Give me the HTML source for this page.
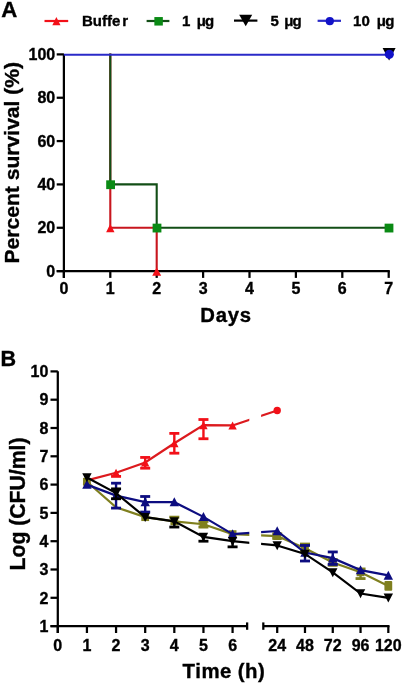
<!DOCTYPE html>
<html><head><meta charset="utf-8"><title>Figure</title>
<style>html,body{margin:0;padding:0;background:#fff;} svg{display:block} text{font-family:'Liberation Sans',Arial,sans-serif;font-weight:bold;fill:#000;stroke:#000;stroke-width:0.35px;font-variant-ligatures:none;font-kerning:none}</style>
</head><body>
<svg width="405" height="685" viewBox="0 0 405 685">
<rect width="405" height="685" fill="#fff"/>
<text x="1.20" y="17.30" font-size="22.2" text-anchor="start" >A</text>
<line x1="44.50" y1="21.00" x2="68.20" y2="21.00" stroke="#f21018" stroke-width="2.2"/>
<polygon points="52.30,25.35 60.50,25.35 56.40,17.05" fill="#f21018"/>
<text x="81.9" y="25.6" font-size="15">Buffe<tspan dx="1.9">r</tspan></text>
<line x1="146.60" y1="21.00" x2="169.40" y2="21.00" stroke="#124e16" stroke-width="2.2"/>
<rect x="154.35" y="17.05" width="8.5" height="8.5" fill="#0a8a14"/>
<text x="181.9 190.3 196.7 204.9" y="25.6" font-size="15">1 μg</text>
<line x1="234.00" y1="20.60" x2="257.40" y2="20.60" stroke="#000" stroke-width="2.2"/>
<polygon points="239.20,14.65 252.20,14.65 245.70,26.15" fill="#000"/>
<text x="270.6 278.9 284.2 292.6" y="25.6" font-size="15">5 μg</text>
<line x1="317.60" y1="20.80" x2="341.00" y2="20.80" stroke="#2a2ac8" stroke-width="2.2"/>
<circle cx="329.80" cy="21.20" r="4.1" fill="#1212c8"/>
<text x="353.0 361.5 369.8 376.7 385.2" y="25.6" font-size="15">10 μg</text>
<line x1="63.90" y1="54.20" x2="63.90" y2="277.90" stroke="#000" stroke-width="2.25"/>
<line x1="56.70" y1="271.10" x2="389.80" y2="271.10" stroke="#000" stroke-width="2.25"/>
<line x1="56.70" y1="271.10" x2="63.90" y2="271.10" stroke="#000" stroke-width="2.25"/>
<text x="55.20" y="276.80" font-size="16" text-anchor="end" >0</text>
<line x1="56.70" y1="227.76" x2="63.90" y2="227.76" stroke="#000" stroke-width="2.25"/>
<text x="55.20" y="233.46" font-size="16" text-anchor="end" >20</text>
<line x1="56.70" y1="184.42" x2="63.90" y2="184.42" stroke="#000" stroke-width="2.25"/>
<text x="55.20" y="190.12" font-size="16" text-anchor="end" >40</text>
<line x1="56.70" y1="141.08" x2="63.90" y2="141.08" stroke="#000" stroke-width="2.25"/>
<text x="55.20" y="146.78" font-size="16" text-anchor="end" >60</text>
<line x1="56.70" y1="97.74" x2="63.90" y2="97.74" stroke="#000" stroke-width="2.25"/>
<text x="55.20" y="103.44" font-size="16" text-anchor="end" >80</text>
<line x1="56.70" y1="54.40" x2="63.90" y2="54.40" stroke="#000" stroke-width="2.25"/>
<text x="55.20" y="60.10" font-size="16" text-anchor="end" >100</text>
<line x1="63.90" y1="271.10" x2="63.90" y2="277.90" stroke="#000" stroke-width="2.25"/>
<text x="63.90" y="294.20" font-size="16" text-anchor="middle" >0</text>
<line x1="110.30" y1="271.10" x2="110.30" y2="277.90" stroke="#000" stroke-width="2.25"/>
<text x="110.30" y="294.20" font-size="16" text-anchor="middle" >1</text>
<line x1="156.70" y1="271.10" x2="156.70" y2="277.90" stroke="#000" stroke-width="2.25"/>
<text x="156.70" y="294.20" font-size="16" text-anchor="middle" >2</text>
<line x1="203.10" y1="271.10" x2="203.10" y2="277.90" stroke="#000" stroke-width="2.25"/>
<text x="203.10" y="294.20" font-size="16" text-anchor="middle" >3</text>
<line x1="249.50" y1="271.10" x2="249.50" y2="277.90" stroke="#000" stroke-width="2.25"/>
<text x="249.50" y="294.20" font-size="16" text-anchor="middle" >4</text>
<line x1="295.90" y1="271.10" x2="295.90" y2="277.90" stroke="#000" stroke-width="2.25"/>
<text x="295.90" y="294.20" font-size="16" text-anchor="middle" >5</text>
<line x1="342.30" y1="271.10" x2="342.30" y2="277.90" stroke="#000" stroke-width="2.25"/>
<text x="342.30" y="294.20" font-size="16" text-anchor="middle" >6</text>
<line x1="388.70" y1="271.10" x2="388.70" y2="277.90" stroke="#000" stroke-width="2.25"/>
<text x="388.70" y="294.20" font-size="16" text-anchor="middle" >7</text>
<text x="225.60" y="321.60" font-size="20.3" text-anchor="middle" textLength="50.7" lengthAdjust="spacing">Days</text>
<text transform="translate(18.5,162.7) rotate(-90)" x="0" y="0" font-size="21.1" text-anchor="middle">Percent survival (%)</text>
<polyline points="110.30,53.50 110.30,227.76 156.70,227.76 156.70,271.10" fill="none" stroke="#c8161e" stroke-width="2.1" stroke-linejoin="miter"/>
<polyline points="110.30,53.50 110.30,184.42 156.70,184.42 156.70,227.76 388.70,227.76" fill="none" stroke="#124e16" stroke-width="2.1" stroke-linejoin="miter"/>
<polygon points="106.10,232.36 114.50,232.36 110.30,223.96" fill="#f21018"/>
<polygon points="152.20,275.80 161.20,275.80 156.70,267.40" fill="#f21018"/>
<rect x="106.20" y="180.32" width="8.8" height="8.8" fill="#0a8a14"/>
<rect x="152.60" y="223.66" width="8.8" height="8.8" fill="#0a8a14"/>
<rect x="384.60" y="223.66" width="8.8" height="8.8" fill="#0a8a14"/>
<line x1="63.90" y1="54.70" x2="388.70" y2="54.70" stroke="#2a2ac8" stroke-width="1.9"/>
<polygon points="382.60,48.00 395.60,48.00 389.10,60.40" fill="#000"/>
<circle cx="389.30" cy="54.30" r="4.6" fill="#1212c8"/>
<text x="0.60" y="366.30" font-size="21.6" text-anchor="start" >B</text>
<line x1="57.80" y1="371.20" x2="57.80" y2="633.00" stroke="#000" stroke-width="2.25"/>
<line x1="50.50" y1="626.10" x2="57.80" y2="626.10" stroke="#000" stroke-width="2.25"/>
<text x="48.30" y="631.80" font-size="16" text-anchor="end" >1</text>
<line x1="50.50" y1="597.80" x2="57.80" y2="597.80" stroke="#000" stroke-width="2.25"/>
<text x="48.30" y="603.50" font-size="16" text-anchor="end" >2</text>
<line x1="50.50" y1="569.50" x2="57.80" y2="569.50" stroke="#000" stroke-width="2.25"/>
<text x="48.30" y="575.20" font-size="16" text-anchor="end" >3</text>
<line x1="50.50" y1="541.20" x2="57.80" y2="541.20" stroke="#000" stroke-width="2.25"/>
<text x="48.30" y="546.90" font-size="16" text-anchor="end" >4</text>
<line x1="50.50" y1="512.90" x2="57.80" y2="512.90" stroke="#000" stroke-width="2.25"/>
<text x="48.30" y="518.60" font-size="16" text-anchor="end" >5</text>
<line x1="50.50" y1="484.60" x2="57.80" y2="484.60" stroke="#000" stroke-width="2.25"/>
<text x="48.30" y="490.30" font-size="16" text-anchor="end" >6</text>
<line x1="50.50" y1="456.30" x2="57.80" y2="456.30" stroke="#000" stroke-width="2.25"/>
<text x="48.30" y="462.00" font-size="16" text-anchor="end" >7</text>
<line x1="50.50" y1="428.00" x2="57.80" y2="428.00" stroke="#000" stroke-width="2.25"/>
<text x="48.30" y="433.70" font-size="16" text-anchor="end" >8</text>
<line x1="50.50" y1="399.70" x2="57.80" y2="399.70" stroke="#000" stroke-width="2.25"/>
<text x="48.30" y="405.40" font-size="16" text-anchor="end" >9</text>
<line x1="50.50" y1="371.40" x2="57.80" y2="371.40" stroke="#000" stroke-width="2.25"/>
<text x="48.30" y="377.10" font-size="16" text-anchor="end" >10</text>
<line x1="50.50" y1="626.10" x2="247.14" y2="626.10" stroke="#000" stroke-width="2.25"/>
<line x1="247.14" y1="622.40" x2="247.14" y2="629.80" stroke="#000" stroke-width="2.25"/>
<line x1="57.80" y1="626.10" x2="57.80" y2="633.00" stroke="#000" stroke-width="2.25"/>
<text x="57.80" y="651.20" font-size="16" text-anchor="middle" >0</text>
<line x1="86.93" y1="626.10" x2="86.93" y2="633.00" stroke="#000" stroke-width="2.25"/>
<text x="86.93" y="651.20" font-size="16" text-anchor="middle" >1</text>
<line x1="116.06" y1="626.10" x2="116.06" y2="633.00" stroke="#000" stroke-width="2.25"/>
<text x="116.06" y="651.20" font-size="16" text-anchor="middle" >2</text>
<line x1="145.19" y1="626.10" x2="145.19" y2="633.00" stroke="#000" stroke-width="2.25"/>
<text x="145.19" y="651.20" font-size="16" text-anchor="middle" >3</text>
<line x1="174.32" y1="626.10" x2="174.32" y2="633.00" stroke="#000" stroke-width="2.25"/>
<text x="174.32" y="651.20" font-size="16" text-anchor="middle" >4</text>
<line x1="203.45" y1="626.10" x2="203.45" y2="633.00" stroke="#000" stroke-width="2.25"/>
<text x="203.45" y="651.20" font-size="16" text-anchor="middle" >5</text>
<line x1="232.58" y1="626.10" x2="232.58" y2="633.00" stroke="#000" stroke-width="2.25"/>
<text x="232.58" y="651.20" font-size="16" text-anchor="middle" >6</text>
<line x1="263.31" y1="626.10" x2="389.52" y2="626.10" stroke="#000" stroke-width="2.25"/>
<line x1="263.31" y1="622.40" x2="263.31" y2="629.80" stroke="#000" stroke-width="2.25"/>
<line x1="277.20" y1="626.10" x2="277.20" y2="633.00" stroke="#000" stroke-width="2.25"/>
<text x="277.20" y="651.20" font-size="16" text-anchor="middle" >24</text>
<line x1="304.98" y1="626.10" x2="304.98" y2="633.00" stroke="#000" stroke-width="2.25"/>
<text x="304.98" y="651.20" font-size="16" text-anchor="middle" >48</text>
<line x1="332.76" y1="626.10" x2="332.76" y2="633.00" stroke="#000" stroke-width="2.25"/>
<text x="332.76" y="651.20" font-size="16" text-anchor="middle" >72</text>
<line x1="360.54" y1="626.10" x2="360.54" y2="633.00" stroke="#000" stroke-width="2.25"/>
<text x="360.54" y="651.20" font-size="16" text-anchor="middle" >96</text>
<line x1="388.32" y1="626.10" x2="388.32" y2="633.00" stroke="#000" stroke-width="2.25"/>
<text x="388.32" y="651.20" font-size="16" text-anchor="middle" >120</text>
<text x="223.60" y="678.30" font-size="20.4" text-anchor="middle" textLength="82.4" lengthAdjust="spacing">Time (h)</text>
<text transform="translate(25.3,504) rotate(-90)" x="0" y="0" font-size="21.2" text-anchor="middle">Log (CFU/ml)</text>
<defs><clipPath id="brk"><rect x="0" y="0" width="249.3" height="685"/><rect x="261.1" y="0" width="200" height="685"/></clipPath></defs>
<polyline points="86.93,480.36 116.06,472.71 145.19,462.53 174.32,443.28 203.45,425.17 232.58,425.45" fill="none" stroke="#dc1a1e" stroke-width="2.2" stroke-linejoin="miter"/>
<g clip-path="url(#brk)"><line x1="232.58" y1="425.45" x2="277.20" y2="410.45" stroke="#dc1a1e" stroke-width="2.2"/></g>
<polygon points="82.73,484.36 91.13,484.36 86.93,476.36" fill="#f21018"/>
<line x1="116.06" y1="472.71" x2="116.06" y2="476.39" stroke="#f21018" stroke-width="2.4"/>
<line x1="111.06" y1="476.39" x2="121.06" y2="476.39" stroke="#f21018" stroke-width="2.8"/>
<polygon points="111.86,476.71 120.26,476.71 116.06,468.71" fill="#f21018"/>
<line x1="145.19" y1="462.53" x2="145.19" y2="457.43" stroke="#f21018" stroke-width="2.4"/>
<line x1="140.19" y1="457.43" x2="150.19" y2="457.43" stroke="#f21018" stroke-width="2.8"/>
<line x1="145.19" y1="462.53" x2="145.19" y2="468.19" stroke="#f21018" stroke-width="2.4"/>
<line x1="140.19" y1="468.19" x2="150.19" y2="468.19" stroke="#f21018" stroke-width="2.8"/>
<polygon points="140.99,466.53 149.39,466.53 145.19,458.53" fill="#f21018"/>
<line x1="174.32" y1="443.28" x2="174.32" y2="433.38" stroke="#f21018" stroke-width="2.4"/>
<line x1="169.32" y1="433.38" x2="179.32" y2="433.38" stroke="#f21018" stroke-width="2.8"/>
<line x1="174.32" y1="443.28" x2="174.32" y2="453.19" stroke="#f21018" stroke-width="2.4"/>
<line x1="169.32" y1="453.19" x2="179.32" y2="453.19" stroke="#f21018" stroke-width="2.8"/>
<polygon points="170.12,447.28 178.52,447.28 174.32,439.28" fill="#f21018"/>
<line x1="203.45" y1="425.17" x2="203.45" y2="419.51" stroke="#f21018" stroke-width="2.4"/>
<line x1="198.45" y1="419.51" x2="208.45" y2="419.51" stroke="#f21018" stroke-width="2.8"/>
<line x1="203.45" y1="425.17" x2="203.45" y2="438.75" stroke="#f21018" stroke-width="2.4"/>
<line x1="198.45" y1="438.75" x2="208.45" y2="438.75" stroke="#f21018" stroke-width="2.8"/>
<polygon points="199.25,429.17 207.65,429.17 203.45,421.17" fill="#f21018"/>
<polygon points="228.38,429.45 236.78,429.45 232.58,421.45" fill="#f21018"/>
<circle cx="277.20" cy="410.45" r="3.7" fill="#f21018"/>
<polyline points="86.93,481.77 116.06,507.24 145.19,517.14 174.32,521.39 203.45,524.22 232.58,534.12" fill="none" stroke="#7f7f1e" stroke-width="2.2" stroke-linejoin="miter"/>
<polyline points="277.20,536.11 304.98,548.27 332.76,562.43 360.54,572.33 388.32,585.91" fill="none" stroke="#7f7f1e" stroke-width="2.2" stroke-linejoin="miter"/>
<g clip-path="url(#brk)"><line x1="232.58" y1="534.12" x2="277.20" y2="536.11" stroke="#7f7f1e" stroke-width="2.2"/></g>
<rect x="83.03" y="477.87" width="7.8" height="7.8" fill="#7f7f1e"/>
<rect x="141.29" y="513.25" width="7.8" height="7.8" fill="#7f7f1e"/>
<line x1="174.32" y1="521.39" x2="174.32" y2="517.14" stroke="#7f7f1e" stroke-width="2.4"/>
<line x1="169.32" y1="517.14" x2="179.32" y2="517.14" stroke="#7f7f1e" stroke-width="2.8"/>
<rect x="170.42" y="517.49" width="7.8" height="7.8" fill="#7f7f1e"/>
<line x1="203.45" y1="524.22" x2="203.45" y2="521.39" stroke="#7f7f1e" stroke-width="2.4"/>
<line x1="198.45" y1="521.39" x2="208.45" y2="521.39" stroke="#7f7f1e" stroke-width="2.8"/>
<line x1="203.45" y1="524.22" x2="203.45" y2="527.05" stroke="#7f7f1e" stroke-width="2.4"/>
<line x1="198.45" y1="527.05" x2="208.45" y2="527.05" stroke="#7f7f1e" stroke-width="2.8"/>
<rect x="199.55" y="520.32" width="7.8" height="7.8" fill="#7f7f1e"/>
<rect x="228.68" y="530.23" width="7.8" height="7.8" fill="#7f7f1e"/>
<line x1="277.20" y1="536.11" x2="277.20" y2="533.84" stroke="#7f7f1e" stroke-width="2.4"/>
<line x1="272.20" y1="533.84" x2="282.20" y2="533.84" stroke="#7f7f1e" stroke-width="2.8"/>
<line x1="277.20" y1="536.11" x2="277.20" y2="538.37" stroke="#7f7f1e" stroke-width="2.4"/>
<line x1="272.20" y1="538.37" x2="282.20" y2="538.37" stroke="#7f7f1e" stroke-width="2.8"/>
<rect x="273.30" y="532.21" width="7.8" height="7.8" fill="#7f7f1e"/>
<line x1="304.98" y1="548.27" x2="304.98" y2="544.03" stroke="#7f7f1e" stroke-width="2.4"/>
<line x1="299.98" y1="544.03" x2="309.98" y2="544.03" stroke="#7f7f1e" stroke-width="2.8"/>
<line x1="304.98" y1="548.27" x2="304.98" y2="551.11" stroke="#7f7f1e" stroke-width="2.4"/>
<line x1="299.98" y1="551.11" x2="309.98" y2="551.11" stroke="#7f7f1e" stroke-width="2.8"/>
<rect x="301.08" y="544.38" width="7.8" height="7.8" fill="#7f7f1e"/>
<line x1="332.76" y1="562.43" x2="332.76" y2="559.60" stroke="#7f7f1e" stroke-width="2.4"/>
<line x1="327.76" y1="559.60" x2="337.76" y2="559.60" stroke="#7f7f1e" stroke-width="2.8"/>
<line x1="332.76" y1="562.43" x2="332.76" y2="565.25" stroke="#7f7f1e" stroke-width="2.4"/>
<line x1="327.76" y1="565.25" x2="337.76" y2="565.25" stroke="#7f7f1e" stroke-width="2.8"/>
<rect x="328.86" y="558.53" width="7.8" height="7.8" fill="#7f7f1e"/>
<line x1="360.54" y1="572.33" x2="360.54" y2="568.93" stroke="#7f7f1e" stroke-width="2.4"/>
<line x1="355.54" y1="568.93" x2="365.54" y2="568.93" stroke="#7f7f1e" stroke-width="2.8"/>
<line x1="360.54" y1="572.33" x2="360.54" y2="578.56" stroke="#7f7f1e" stroke-width="2.4"/>
<line x1="355.54" y1="578.56" x2="365.54" y2="578.56" stroke="#7f7f1e" stroke-width="2.8"/>
<rect x="356.64" y="568.43" width="7.8" height="7.8" fill="#7f7f1e"/>
<rect x="384.42" y="581.11" width="7.8" height="9.6" rx="1" fill="#7f7f1e"/>
<polyline points="86.93,484.60 116.06,495.64 145.19,502.15 174.32,502.15 203.45,516.86 232.58,534.12" fill="none" stroke="#0d0d80" stroke-width="2.2" stroke-linejoin="miter"/>
<polyline points="277.20,531.01 304.98,552.52 332.76,558.18 360.54,570.07 388.32,575.44" fill="none" stroke="#0d0d80" stroke-width="2.2" stroke-linejoin="miter"/>
<g clip-path="url(#brk)"><line x1="232.58" y1="534.12" x2="277.20" y2="531.01" stroke="#0d0d80" stroke-width="2.2"/></g>
<polygon points="82.23,488.80 91.63,488.80 86.93,479.80" fill="#0d0d80"/>
<line x1="116.06" y1="495.64" x2="116.06" y2="483.19" stroke="#0d0d80" stroke-width="2.4"/>
<line x1="111.06" y1="483.19" x2="121.06" y2="483.19" stroke="#0d0d80" stroke-width="2.8"/>
<line x1="116.06" y1="495.64" x2="116.06" y2="508.09" stroke="#0d0d80" stroke-width="2.4"/>
<line x1="111.06" y1="508.09" x2="121.06" y2="508.09" stroke="#0d0d80" stroke-width="2.8"/>
<polygon points="111.36,499.84 120.76,499.84 116.06,490.84" fill="#0d0d80"/>
<line x1="145.19" y1="502.15" x2="145.19" y2="496.49" stroke="#0d0d80" stroke-width="2.4"/>
<line x1="140.19" y1="496.49" x2="150.19" y2="496.49" stroke="#0d0d80" stroke-width="2.8"/>
<line x1="145.19" y1="502.15" x2="145.19" y2="512.05" stroke="#0d0d80" stroke-width="2.4"/>
<line x1="140.19" y1="512.05" x2="150.19" y2="512.05" stroke="#0d0d80" stroke-width="2.8"/>
<polygon points="140.49,506.35 149.89,506.35 145.19,497.35" fill="#0d0d80"/>
<polygon points="169.62,506.35 179.02,506.35 174.32,497.35" fill="#0d0d80"/>
<polygon points="198.75,521.06 208.15,521.06 203.45,512.06" fill="#0d0d80"/>
<polygon points="227.88,538.33 237.28,538.33 232.58,529.33" fill="#0d0d80"/>
<polygon points="272.50,535.21 281.90,535.21 277.20,526.21" fill="#0d0d80"/>
<line x1="304.98" y1="552.52" x2="304.98" y2="545.45" stroke="#0d0d80" stroke-width="2.4"/>
<line x1="299.98" y1="545.45" x2="309.98" y2="545.45" stroke="#0d0d80" stroke-width="2.8"/>
<line x1="304.98" y1="552.52" x2="304.98" y2="561.01" stroke="#0d0d80" stroke-width="2.4"/>
<line x1="299.98" y1="561.01" x2="309.98" y2="561.01" stroke="#0d0d80" stroke-width="2.8"/>
<polygon points="300.28,556.72 309.68,556.72 304.98,547.72" fill="#0d0d80"/>
<line x1="332.76" y1="558.18" x2="332.76" y2="551.95" stroke="#0d0d80" stroke-width="2.4"/>
<line x1="327.76" y1="551.95" x2="337.76" y2="551.95" stroke="#0d0d80" stroke-width="2.8"/>
<line x1="332.76" y1="558.18" x2="332.76" y2="564.41" stroke="#0d0d80" stroke-width="2.4"/>
<line x1="327.76" y1="564.41" x2="337.76" y2="564.41" stroke="#0d0d80" stroke-width="2.8"/>
<polygon points="328.06,562.38 337.46,562.38 332.76,553.38" fill="#0d0d80"/>
<polygon points="355.84,574.27 365.24,574.27 360.54,565.27" fill="#0d0d80"/>
<polygon points="383.62,579.64 393.02,579.64 388.32,570.64" fill="#0d0d80"/>
<polyline points="86.93,477.52 116.06,493.09 145.19,517.14 174.32,521.39 203.45,536.96 232.58,541.20" fill="none" stroke="#000" stroke-width="2.2" stroke-linejoin="miter"/>
<polyline points="277.20,545.45 304.98,553.94 332.76,572.33 360.54,593.56 388.32,597.80" fill="none" stroke="#000" stroke-width="2.2" stroke-linejoin="miter"/>
<g clip-path="url(#brk)"><line x1="232.58" y1="541.20" x2="277.20" y2="545.45" stroke="#000" stroke-width="2.2"/></g>
<polygon points="82.23,473.32 91.63,473.32 86.93,482.32" fill="#000"/>
<line x1="116.06" y1="493.09" x2="116.06" y2="488.85" stroke="#000" stroke-width="2.4"/>
<line x1="111.06" y1="488.85" x2="121.06" y2="488.85" stroke="#000" stroke-width="2.8"/>
<line x1="116.06" y1="493.09" x2="116.06" y2="498.75" stroke="#000" stroke-width="2.4"/>
<line x1="111.06" y1="498.75" x2="121.06" y2="498.75" stroke="#000" stroke-width="2.8"/>
<polygon points="111.36,488.89 120.76,488.89 116.06,497.89" fill="#000"/>
<polygon points="140.49,512.94 149.89,512.94 145.19,521.94" fill="#000"/>
<line x1="174.32" y1="521.39" x2="174.32" y2="527.05" stroke="#000" stroke-width="2.4"/>
<line x1="169.32" y1="527.05" x2="179.32" y2="527.05" stroke="#000" stroke-width="2.8"/>
<polygon points="169.62,517.19 179.02,517.19 174.32,526.19" fill="#000"/>
<line x1="203.45" y1="536.96" x2="203.45" y2="541.20" stroke="#000" stroke-width="2.4"/>
<line x1="198.45" y1="541.20" x2="208.45" y2="541.20" stroke="#000" stroke-width="2.8"/>
<polygon points="198.75,532.75 208.15,532.75 203.45,541.75" fill="#000"/>
<line x1="232.58" y1="541.20" x2="232.58" y2="546.86" stroke="#000" stroke-width="2.4"/>
<line x1="227.58" y1="546.86" x2="237.58" y2="546.86" stroke="#000" stroke-width="2.8"/>
<polygon points="227.88,537.00 237.28,537.00 232.58,546.00" fill="#000"/>
<polygon points="272.50,541.25 281.90,541.25 277.20,550.25" fill="#000"/>
<polygon points="300.28,549.74 309.68,549.74 304.98,558.74" fill="#000"/>
<polygon points="328.06,568.13 337.46,568.13 332.76,577.13" fill="#000"/>
<polygon points="355.84,589.36 365.24,589.36 360.54,598.36" fill="#000"/>
<polygon points="383.62,593.60 393.02,593.60 388.32,602.60" fill="#000"/>
</svg>
</body></html>
